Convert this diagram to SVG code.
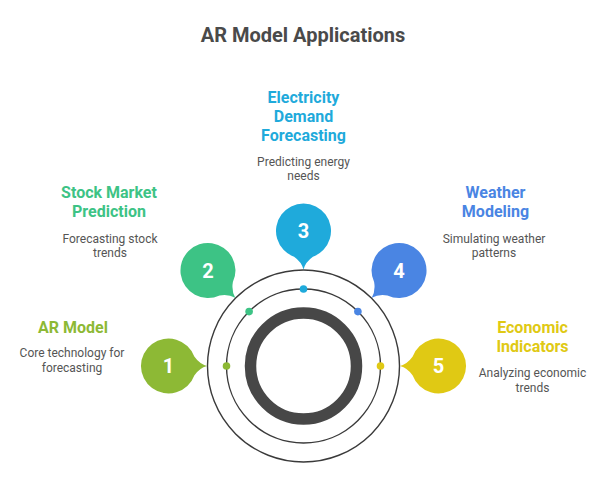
<svg xmlns="http://www.w3.org/2000/svg" width="612" height="478" viewBox="0 0 612 478">
<style>
.title{font-family:Roboto,"Liberation Sans",sans-serif;font-weight:bold;font-size:20px;fill:#4a4a4a;text-anchor:middle}
.head{font-family:Roboto,"Liberation Sans",sans-serif;font-weight:bold;font-size:16px;text-anchor:middle}
.desc{font-family:Roboto,"Liberation Sans",sans-serif;font-size:12px;fill:#555;text-anchor:middle}
.num{font-family:Roboto,"Liberation Sans",sans-serif;font-weight:bold;font-size:20px;fill:#fff;text-anchor:middle}
.ring{fill:none;stroke:#3a3a3a;stroke-width:1.4}
</style>
<defs>
<path id="bub" d="M 25.8,-9.4 A 27.5 27.5 0 1 0 25.8,9.4 Q 31,2 38.5,0 Q 31,-2 25.8,-9.4 Z"/>
</defs>
<rect width="612" height="478" fill="#fff"/>
<text class="title" x="303" y="42">AR Model Applications</text>
<g id="connectors">
<circle class="ring" cx="303.5" cy="366" r="96"/>
<circle class="ring" cx="303.5" cy="366" r="77"/>
<circle cx="303.5" cy="366" r="53" fill="none" stroke="#474747" stroke-width="11.5"/>
</g>
<g id="node1">
<use href="#bub" transform="translate(168.5,366) rotate(0)" fill="#8DB935"/>
<text class="num" x="168.5" y="373">1</text>
<circle cx="226.5" cy="366" r="3.8" fill="#8DB935"/>
<text class="head" x="73" y="333" fill="#8DB935">AR Model</text>
<text class="desc" x="72" y="357">Core technology for</text>
<text class="desc" x="72" y="372">forecasting</text>
</g>
<g id="node2">
<use href="#bub" transform="translate(208,270.5) rotate(45)" fill="#3DC385"/>
<text class="num" x="208" y="277.5">2</text>
<circle cx="249.1" cy="311.6" r="3.8" fill="#3DC385"/>
<text class="head" x="109" y="198" fill="#3DC385">Stock Market</text>
<text class="head" x="109" y="217" fill="#3DC385">Prediction</text>
<text class="desc" x="110" y="243">Forecasting stock</text>
<text class="desc" x="110" y="257">trends</text>
</g>
<g id="node3">
<use href="#bub" transform="translate(303.5,231) rotate(90)" fill="#1FAADB"/>
<text class="num" x="303.5" y="238">3</text>
<circle cx="303.5" cy="289" r="3.8" fill="#1FAADB"/>
<text class="head" x="303.5" y="103" fill="#1FAADB">Electricity</text>
<text class="head" x="303.5" y="122" fill="#1FAADB">Demand</text>
<text class="head" x="303.5" y="141" fill="#1FAADB">Forecasting</text>
<text class="desc" x="303.5" y="166">Predicting energy</text>
<text class="desc" x="303.5" y="180">needs</text>
</g>
<g id="node4">
<use href="#bub" transform="translate(399,270.5) rotate(135)" fill="#4A85E3"/>
<text class="num" x="399" y="277.5">4</text>
<circle cx="357.9" cy="311.6" r="3.8" fill="#4A85E3"/>
<text class="head" x="495.5" y="198" fill="#4A85E3">Weather</text>
<text class="head" x="495.5" y="217" fill="#4A85E3">Modeling</text>
<text class="desc" x="494" y="243">Simulating weather</text>
<text class="desc" x="494" y="257">patterns</text>
</g>
<g id="node5">
<use href="#bub" transform="translate(438.5,366) rotate(180)" fill="#E0C914"/>
<text class="num" x="438.5" y="373">5</text>
<circle cx="380.5" cy="366" r="3.8" fill="#E0C914"/>
<text class="head" x="532.5" y="333" fill="#E0C914">Economic</text>
<text class="head" x="532.5" y="352" fill="#E0C914">Indicators</text>
<text class="desc" x="532.5" y="377">Analyzing economic</text>
<text class="desc" x="532.5" y="392">trends</text>
</g>
</svg>
